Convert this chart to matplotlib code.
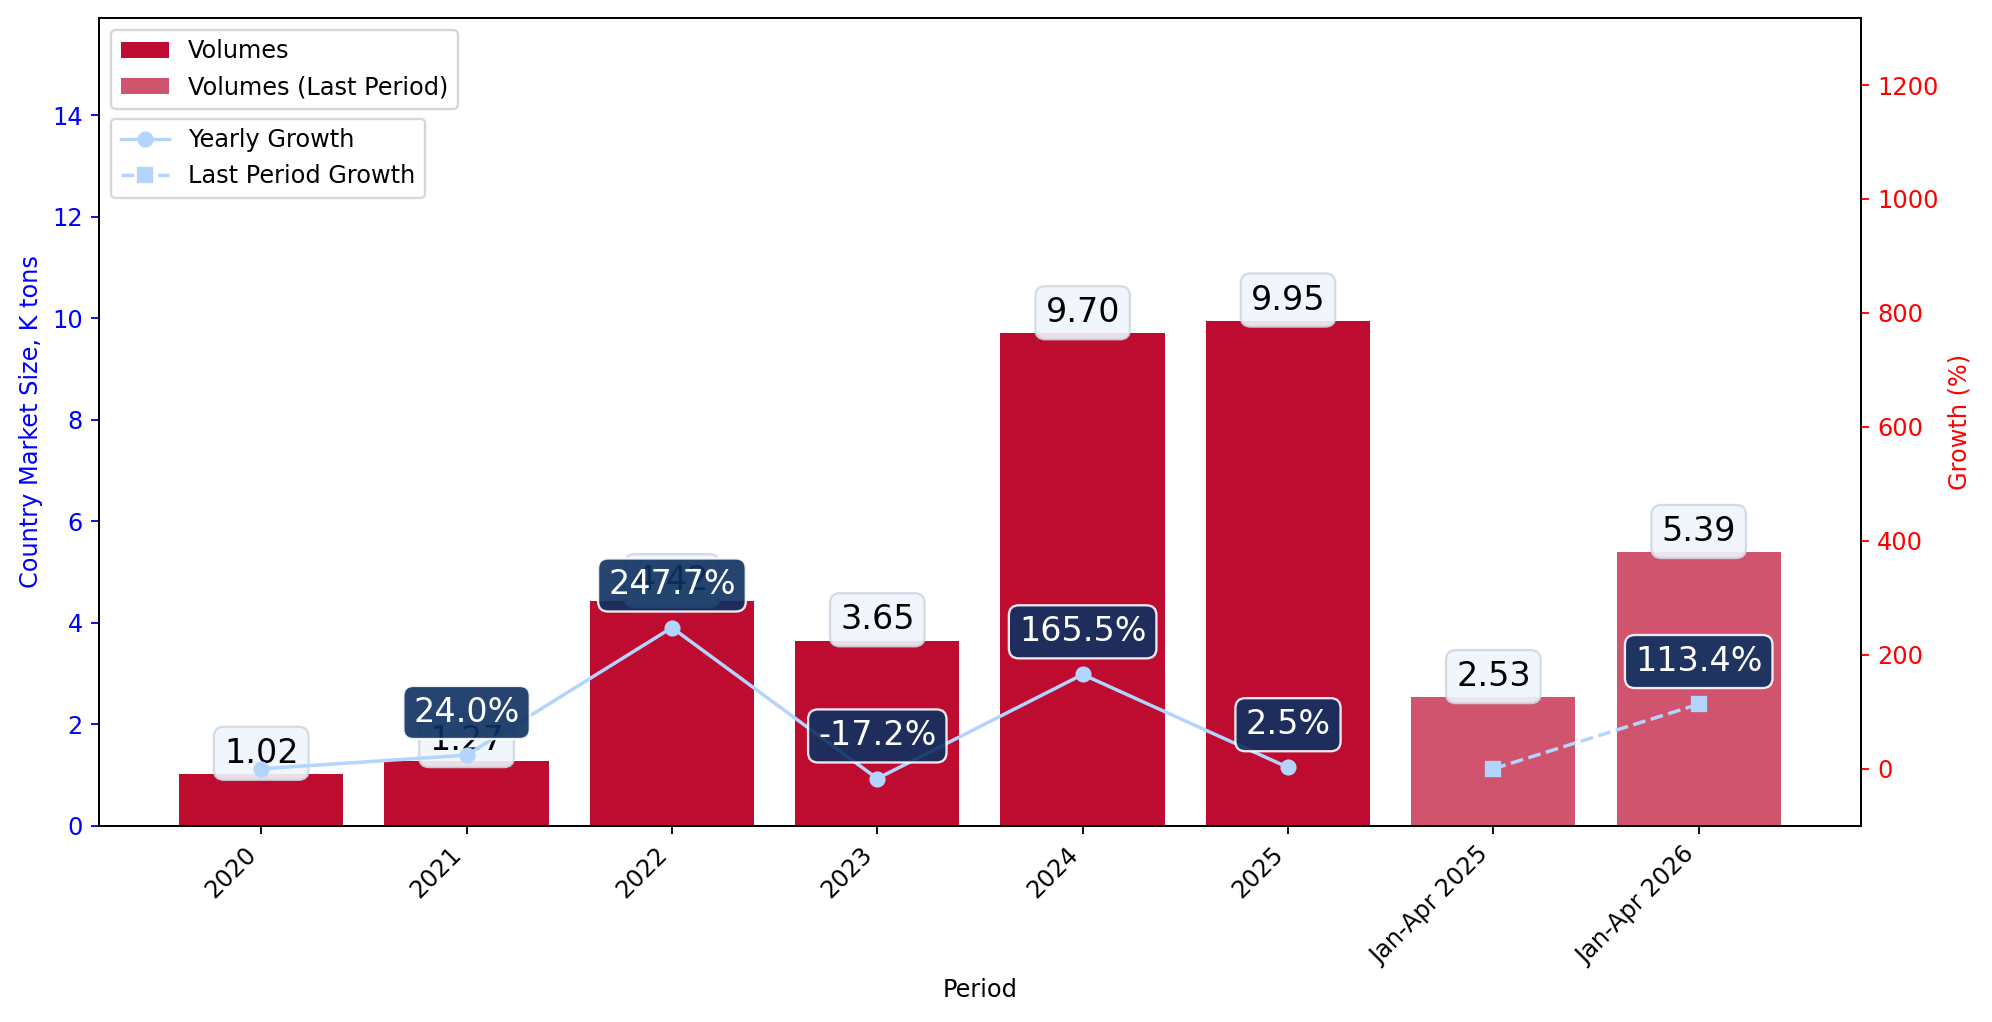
import numpy as np
import matplotlib
matplotlib.use("Agg")
import matplotlib.pyplot as plt
from matplotlib.patches import Patch
from matplotlib.lines import Line2D

periods = ["2020", "2021", "2022", "2023", "2024", "2025", "Jan-Apr 2025", "Jan-Apr 2026"]
volumes = [1.02, 1.27, 4.42, 3.65, 9.70, 9.95, 2.53, 5.39]
yearly_growth = [0.0, 24.0, 247.7, -17.2, 165.5, 2.5]
last_growth = [0.0, 113.4]
n_yearly = 6

bar_color = "#BE0B30"
line_color = "#B3D4FC"
label_dark = "#0D3161"

plt.rcParams["font.size"] = 10.4

fig = plt.figure(figsize=(12, 1022 / 166), dpi=166)
ax1 = fig.add_axes([0.0497, 0.192, 0.8845, 0.7906])
ax2 = ax1.twinx()

x = np.arange(len(periods))
ax1.bar(x[:n_yearly], volumes[:n_yearly], width=0.8, color=bar_color)
ax1.bar(x[n_yearly:], volumes[n_yearly:], width=0.8, color=bar_color, alpha=0.7)

for xi, v in zip(x, volumes):
    ax1.annotate(f"{v:.2f}", (xi, v), xytext=(0, 9), textcoords="offset points",
                 ha="center", va="center", fontsize=14.5, color="black",
                 bbox=dict(boxstyle="round,pad=0.3", fc="#F0F6FC", ec="#D0D8E2", alpha=0.9))

ax1.set_ylim(0, max(volumes) * 1.6)
ax1.set_ylabel("Country Market Size, K tons", color="blue")
ax1.tick_params(axis="y", colors="blue")
ax1.set_xticks(x)
ax1.set_xticklabels(periods, rotation=45, ha="right")
ax1.set_xlabel("Period")

ax2.plot(x[:n_yearly], yearly_growth, color=line_color, marker="o", lw=1.5, ms=6)
ax2.plot(x[n_yearly:], last_growth, color=line_color, marker="s", ls="--", lw=1.5, ms=6)

growth_pts = list(zip(x[:n_yearly], yearly_growth))[1:] + [(x[-1], last_growth[-1])]
for xi, g in growth_pts:
    ax2.annotate(f"{g:.1f}%", (xi, g), xytext=(0, 18.5), textcoords="offset points",
                 ha="center", va="center", fontsize=14.5, color="white",
                 bbox=dict(boxstyle="round,pad=0.3", fc=label_dark, ec="white", alpha=0.9))

ax2.set_ylim(-100, 1318)
ax2.set_ylabel("Growth (%)", color="red")
ax2.tick_params(axis="y", colors="red")

bar_handles = [Patch(fc=bar_color, label="Volumes"),
               Patch(fc=bar_color, alpha=0.7, label="Volumes (Last Period)")]
line_handles = [Line2D([], [], color=line_color, marker="o", lw=1.5, label="Yearly Growth"),
                Line2D([], [], color=line_color, marker="s", ls="--", lw=1.5, label="Last Period Growth")]
leg1 = ax2.legend(handles=bar_handles, loc="upper left")
ax2.add_artist(leg1)
ax2.legend(handles=line_handles, loc="upper left", bbox_to_anchor=(0, 0.89))

fig.savefig("out.png", dpi=166)
